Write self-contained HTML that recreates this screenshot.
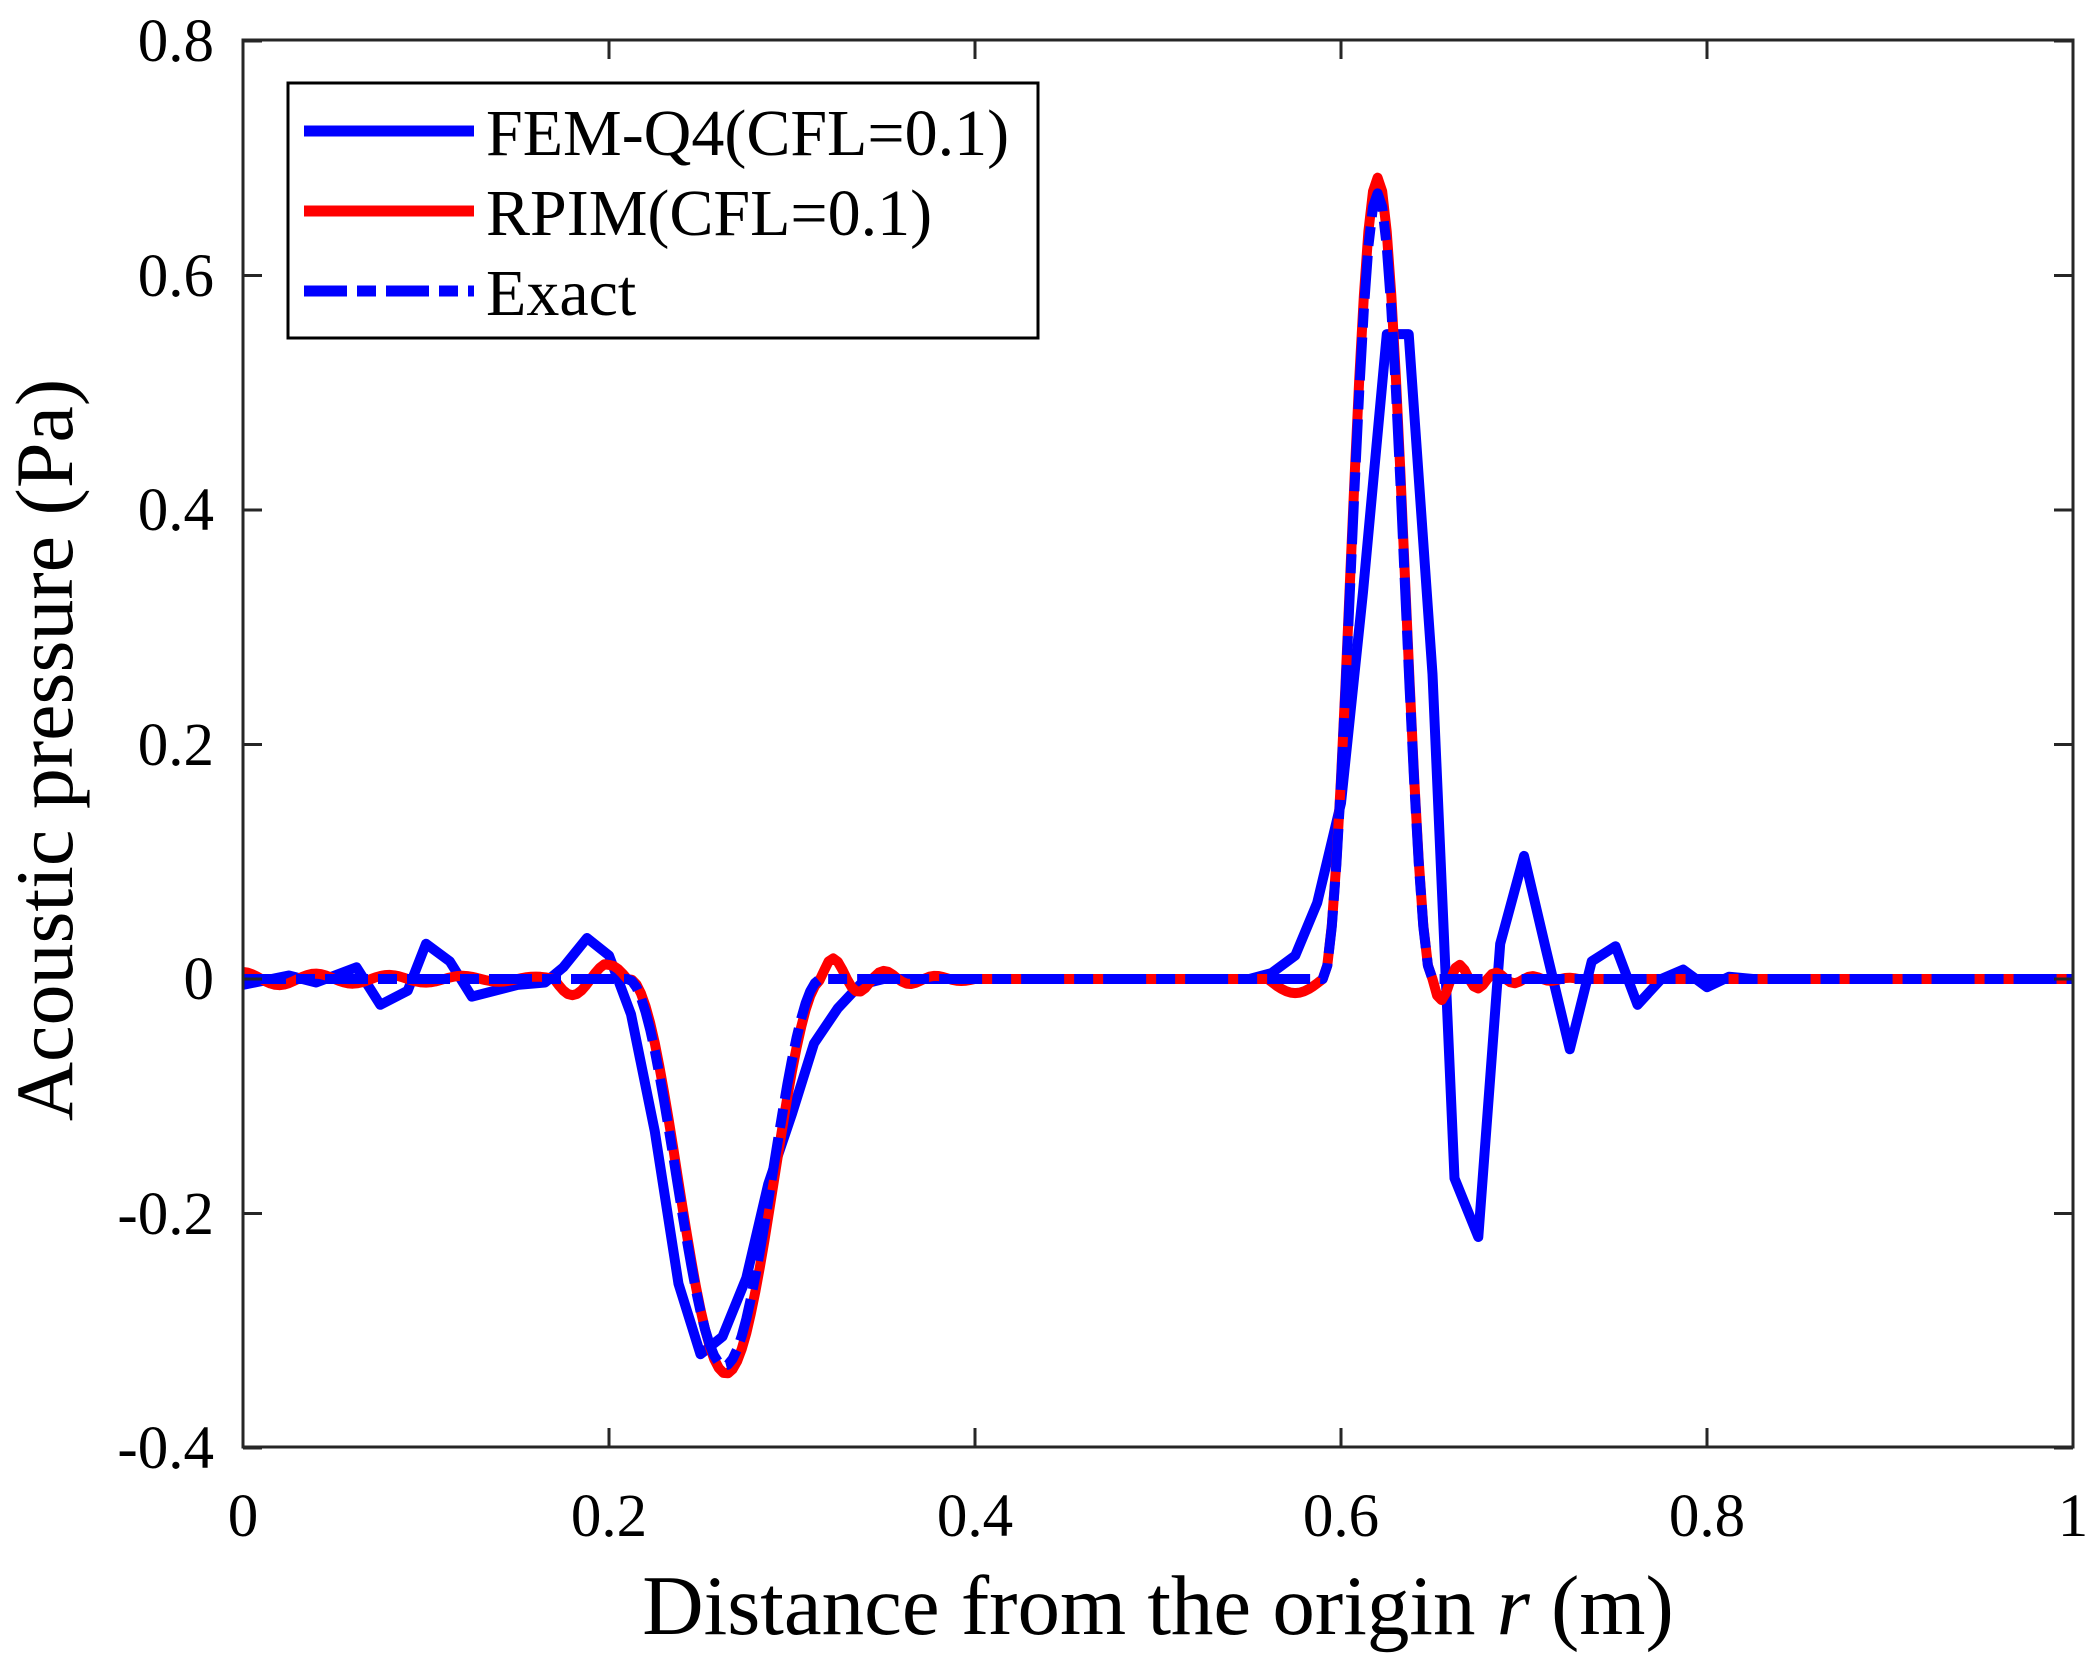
<!DOCTYPE html>
<html><head><meta charset="utf-8">
<style>
html,body{margin:0;padding:0;background:#fff;}
svg{display:block;}
text{font-family:"Liberation Serif",serif;fill:#000;}
</style></head>
<body>
<svg id="s" width="2094" height="1671" viewBox="0 0 2094 1671" xmlns="http://www.w3.org/2000/svg">
<rect width="2094" height="1671" fill="#fff"/>
<g id="plot"></g>
<rect x="243" y="40" width="1830" height="1407" fill="none" stroke="#262626" stroke-width="3"/>
<g stroke="#262626" stroke-width="3" id="ticks"></g>
<g font-size="61" text-anchor="end">
<text x="214" y="61">0.8</text>
<text x="214" y="296">0.6</text>
<text x="214" y="530">0.4</text>
<text x="214" y="765">0.2</text>
<text x="214" y="999">0</text>
<text x="214" y="1234">-0.2</text>
<text x="214" y="1468">-0.4</text>
</g>
<g font-size="61" text-anchor="middle">
<text x="243" y="1536">0</text>
<text x="609" y="1536">0.2</text>
<text x="975" y="1536">0.4</text>
<text x="1341" y="1536">0.6</text>
<text x="1707" y="1536">0.8</text>
<text x="2073" y="1536">1</text>
</g>
<text x="1158" y="1634" font-size="85" text-anchor="middle">Distance from the origin <tspan font-style="italic">r</tspan> (m)</text>
<text transform="translate(72,750) rotate(-90)" font-size="82" text-anchor="middle">Acoustic pressure (Pa)</text>
<rect x="288" y="83" width="750" height="255" fill="#fff" stroke="#000" stroke-width="3"/>
<line x1="304" y1="131" x2="474" y2="131" stroke="#0000ff" stroke-width="11"/>
<line x1="304" y1="211" x2="474" y2="211" stroke="#ff0000" stroke-width="11"/>
<line x1="304" y1="291" x2="474" y2="291" stroke="#0000ff" stroke-width="11" stroke-dasharray="43 10 19 10"/>
<g font-size="66">
<text x="486" y="155">FEM-Q4(CFL=0.1)</text>
<text x="486" y="235">RPIM(CFL=0.1)</text>
<text x="486" y="315">Exact</text>
</g>
</svg>
<script>
var X=function(r){return 243+1830*r;},Y=function(p){return 979-1172.5*p;};
var ns="http://www.w3.org/2000/svg";
function poly(pts,col,w,dash){var e=document.createElementNS(ns,"polyline");
e.setAttribute("points",pts.map(function(q){return X(q[0]).toFixed(1)+","+Y(q[1]).toFixed(1);}).join(" "));
e.setAttribute("fill","none");e.setAttribute("stroke",col);e.setAttribute("stroke-width",w);
e.setAttribute("stroke-linejoin","round");if(dash)e.setAttribute("stroke-dasharray",dash);
document.getElementById("plot").appendChild(e);}
function ex(r){var p=0;
if(r>0.21&&r<0.316){var s=Math.sin(Math.PI*(r-0.21)/0.106);p=-0.33*s*s;}
if(r>0.59&&r<0.65){var s=Math.sin(Math.PI*(r-0.59)/0.06);p=0.67*s*s;}
return p;}
var E=[],R=[];
for(var r=0;r<=1.00001;r+=0.0025){E.push([r,ex(r)]);
var w=0;
if(r>0.316&&r<0.4)w=0.022*Math.sin(2*Math.PI*(r-0.316)/0.028)*Math.exp(-(r-0.316)/0.03);
if(r>0.65&&r<0.73)w=-0.022*Math.sin(2*Math.PI*(r-0.65)/0.02)*Math.exp(-(r-0.65)/0.025);
if(r>0.56&&r<0.59)w=-0.012*Math.sin(Math.PI*(r-0.56)/0.03);
if(r<0.2)w=0.006*Math.cos(2*Math.PI*r/0.04)*Math.exp(-r/0.15);
if(r>0.17&&r<0.21)w+= -0.012*Math.sin(2*Math.PI*(r-0.17)/0.04);
R.push([r,ex(r*1.0+(r>0.2&&r<0.33?-0.001:0))*1.02+w]);}
var F=[[0,-0.005],[0.025,0.003],[0.04,-0.003],[0.062,0.01],[0.075,-0.022],[0.09,-0.01],[0.1,0.03],[0.113,0.015],[0.125,-0.015],[0.15,-0.005],[0.165,-0.003],[0.175,0.01],[0.188,0.035],[0.2,0.02],[0.212,-0.03],[0.225,-0.13],[0.238,-0.26],[0.25,-0.32],[0.262,-0.305],[0.275,-0.255],[0.287,-0.175],[0.3,-0.115],[0.312,-0.055],[0.325,-0.025],[0.337,-0.005],[0.35,0],[0.4,0],[0.55,0],[0.562,0.005],[0.575,0.02],[0.587,0.065],[0.6,0.15],[0.612,0.33],[0.625,0.55],[0.637,0.55],[0.65,0.26],[0.662,-0.17],[0.675,-0.22],[0.687,0.03],[0.7,0.105],[0.712,0.025],[0.725,-0.06],[0.737,0.015],[0.75,0.028],[0.762,-0.022],[0.775,0],[0.787,0.008],[0.8,-0.007],[0.812,0.002],[0.825,0],[1,0]];
poly(F,"#0000ff",10);
poly(R,"#ff0000",10);
poly(E,"#0000ff",10,"43 10 19 10");
var t=document.getElementById("ticks"),h="";
for(var i=0;i<=5;i++){var x=X(i*0.2);h+='<line x1="'+x+'" y1="1447" x2="'+x+'" y2="1428"/><line x1="'+x+'" y1="40" x2="'+x+'" y2="59"/>';}
for(var i=0;i<=6;i++){var y=Y(0.8-i*0.2);h+='<line x1="243" y1="'+y+'" x2="262" y2="'+y+'"/><line x1="2073" y1="'+y+'" x2="2054" y2="'+y+'"/>';}
t.innerHTML=h;
</script>
</body></html>
